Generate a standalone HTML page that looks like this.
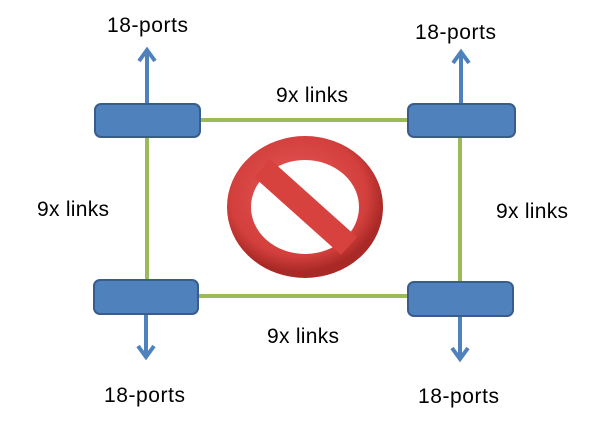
<!DOCTYPE html>
<html><head><style>
body{margin:0;width:604px;height:423px;background:#fff;overflow:hidden}
svg text{font-family:"Liberation Sans",sans-serif;font-size:21px;fill:#000}
</style></head><body>
<svg width="604" height="423" xmlns="http://www.w3.org/2000/svg">
<defs>
<radialGradient id="rg" cx="0.45" cy="0.4" r="0.65">
<stop offset="0" stop-color="#e85c5a"/><stop offset="0.8" stop-color="#d23f3c"/><stop offset="1" stop-color="#a82926"/>
</radialGradient>
</defs>
<g stroke="#9bbb59" stroke-width="4">
<line x1="200" y1="120" x2="408" y2="120"/>
<line x1="198" y1="296" x2="408" y2="296"/>
<line x1="147" y1="137" x2="147" y2="280"/>
<line x1="460" y1="137" x2="460" y2="282"/>
</g>
<g stroke="#4f81bd" stroke-width="4" fill="none">
<line x1="147" y1="103" x2="147" y2="53"/><path d="M139,61 L147,50 L155,61"/>
<line x1="461" y1="104" x2="461" y2="55"/><path d="M453,63 L461,52 L469,63"/>
<line x1="146" y1="314" x2="146" y2="354"/><path d="M138,346 L146,357 L154,346"/>
<line x1="460" y1="316" x2="460" y2="356"/><path d="M452,348 L460,359 L468,348"/>
</g>
<g fill="#4f81bd" stroke="#385d8a" stroke-width="2">
<rect x="95" y="104" width="105" height="33" rx="6"/>
<rect x="408" y="104" width="107" height="33" rx="6"/>
<rect x="94" y="280" width="104" height="34" rx="6"/>
<rect x="408" y="282" width="105" height="34" rx="6"/>
</g>
<g>
<ellipse cx="305" cy="207" rx="66" ry="59" fill="none" stroke="url(#rg)" stroke-width="24"/>
<line x1="262" y1="168" x2="349" y2="246" stroke="#d7423f" stroke-width="24"/>
</g>
<text x="107" y="32" textLength="81">18-ports</text>
<text x="415" y="39" textLength="81">18-ports</text>
<text x="276" y="102" textLength="72">9x links</text>
<text x="37" y="216" textLength="72">9x links</text>
<text x="496" y="218" textLength="72">9x links</text>
<text x="267" y="343" textLength="72">9x links</text>
<text x="104" y="402" textLength="81">18-ports</text>
<text x="418" y="403" textLength="81">18-ports</text>
</svg>
</body></html>
